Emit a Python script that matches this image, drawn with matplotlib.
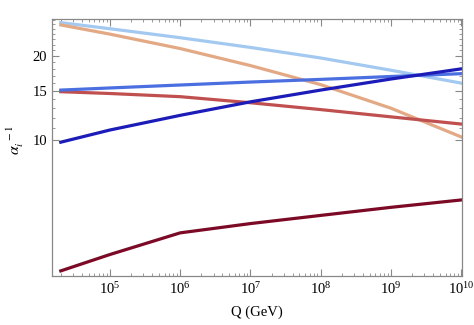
import matplotlib
matplotlib.use('Agg')
import matplotlib.pyplot as plt
import matplotlib.ticker as ticker

plt.rcParams['font.family'] = ['Liberation Serif', 'DejaVu Serif']
plt.rcParams['mathtext.fontset'] = 'stix'

# scale points (GeV) and inverse couplings
Q = [2e4, 1e5, 1e6, 1e7, 1e8, 1e9, 1e10]
light_blue = [26.4, 25.1, 23.3, 21.5, 19.7, 17.8, 16.0]
tan = [25.9, 24.0, 21.3, 18.5, 15.8, 13.0, 10.25]
mid_blue = [15.1, 15.37, 15.75, 16.14, 16.5, 16.9, 17.3]
brick = [14.9, 14.68, 14.3, 13.6, 12.85, 12.1, 11.4]
dark_blue = [9.81, 10.85, 12.25, 13.7, 15.1, 16.55, 18.0]
dark_red = [3.38, 3.87, 4.63, 5.0, 5.35, 5.72, 6.08]

y_major = [10, 15, 20]
y_minor = [11, 12, 13, 14, 16, 17, 18, 19, 21, 22, 23, 24, 25, 26, 27]

fig = plt.figure(figsize=(4.74, 3.25), dpi=100)
ax = fig.add_axes([0.1097, 0.1508, 0.8650, 0.7907])

lw = 2.3
ax.plot(Q, light_blue, color='#a3c9f1', lw=lw)
ax.plot(Q, tan, color='#e3a985', lw=lw)
ax.plot(Q, brick, color='#c0504f', lw=lw)
ax.plot(Q, mid_blue, color='#4b6fe0', lw=lw)
ax.plot(Q, dark_blue, color='#1c1cb8', lw=lw)
ax.plot(Q, dark_red, color='#7c0a26', lw=lw)

ax.set_xscale('log')
ax.set_yscale('log')
ax.set_xlim(1.5e4, 1.03e10)
ax.set_ylim(3.24, 27.2)

ax.xaxis.set_major_locator(ticker.FixedLocator([1e5, 1e6, 1e7, 1e8, 1e9, 1e10]))
ax.xaxis.set_minor_locator(ticker.LogLocator(base=10, subs=range(2, 10), numticks=20))
ax.xaxis.set_major_formatter(ticker.LogFormatterSciNotation())
ax.xaxis.set_minor_formatter(ticker.NullFormatter())

ax.yaxis.set_major_locator(ticker.FixedLocator(y_major))
ax.yaxis.set_minor_locator(ticker.FixedLocator(y_minor))
ax.yaxis.set_major_formatter(ticker.FixedFormatter([str(v) for v in y_major]))
ax.yaxis.set_minor_formatter(ticker.NullFormatter())

ax.tick_params(which='both', direction='in', top=True, right=True,
               color='#888888', labelsize=10.5)
ax.tick_params(which='major', length=5, width=0.8)
ax.tick_params(which='minor', length=2.5, width=0.6)
for s in ax.spines.values():
    s.set_color('#888888')
    s.set_linewidth(0.9)

ax.set_xlabel('Q (GeV)', fontsize=10.5, labelpad=6)
ax.set_ylabel(r'$\alpha_i^{\ -1}$', fontsize=11.5)
ax.yaxis.set_label_coords(-0.064, 0.53)

fig.savefig('out.png', dpi=100)
